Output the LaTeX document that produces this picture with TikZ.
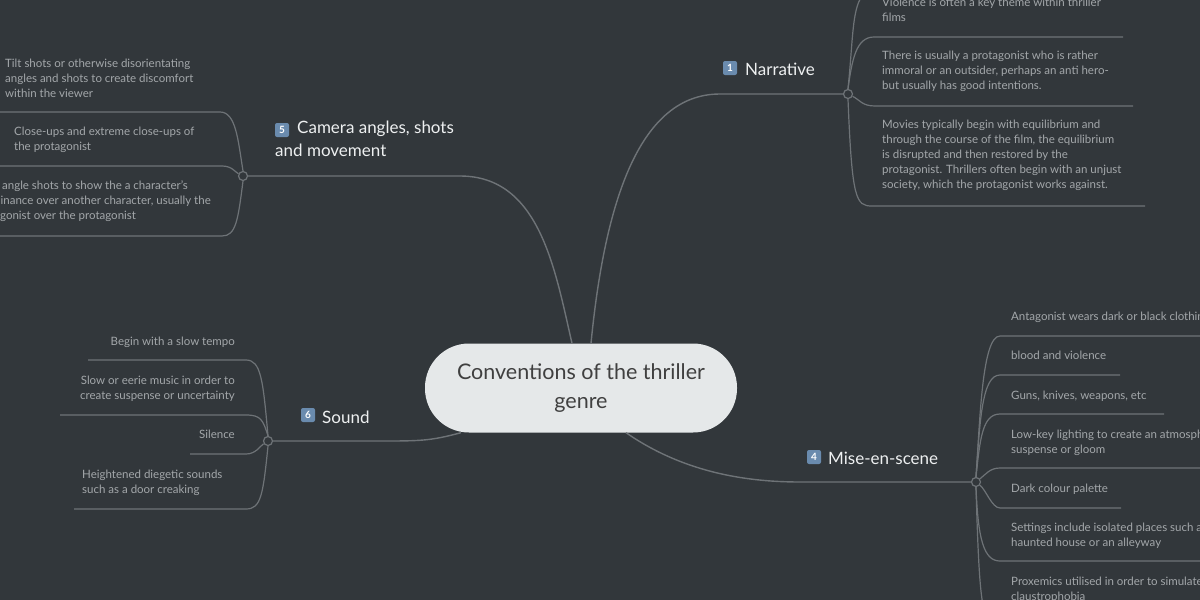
\documentclass[tikz,border=0pt]{standalone}
\usepackage{fontspec}
\setmainfont{Lato}
\definecolor{bg}{HTML}{32373B}
\definecolor{ln}{HTML}{6E7377}
\definecolor{lf}{HTML}{A3A7AA}
\definecolor{tp}{HTML}{EEF0F1}
\definecolor{cn}{HTML}{E5E8E9}
\definecolor{key}{HTML}{6A8BAE}
\begin{document}
\begin{tikzpicture}[x=1pt,y=-1pt,
  leaf/.style={inner sep=0pt,text=lf,font=\fontsize{11.5}{15}\selectfont},
  topic/.style={inner sep=0pt,text=tp,font=\fontsize{17}{23}\selectfont,align=left},
  conn/.style={draw=ln,line width=1.4pt},
  bl/.style={draw=ln,line width=1.2pt},
  junc/.style={circle,draw=ln,line width=1.2pt,fill=bg,minimum size=9pt,inner sep=0pt},
  badge/.style={fill=key,rounded corners=2pt,text=white,inner sep=0pt,minimum width=14pt,minimum height=14pt,font=\fontsize{10}{10}\selectfont\bfseries}]
\useasboundingbox (0,0) rectangle (1200,600);
\fill[bg] (0,0) rectangle (1200,600);

% centre
\node[fill=cn,rounded corners=44pt,minimum width=312pt,minimum height=89pt,align=center,text=black!75,font=\fontsize{21.5}{29}\selectfont] (c) at (581,388) {Conventions of the thriller\\genre};

% junctions
\node[junc] (jn) at (848,94) {};
\node[junc] (jm) at (976,482) {};
\node[junc] (jc) at (243,176) {};
\node[junc] (js) at (268,441) {};

% main branches
\draw[conn] (c.north)++(10,0) coordinate (c1) .. controls (605,200) and (640,94) .. (720,94) -- (jn);
\draw[conn] (c.south)++(45,0) coordinate (c2) .. controls (680,470) and (740,482) .. (800,482) -- (jm);
\draw[conn] (c.north)++(-9,0) coordinate (c3) .. controls (555,270) and (540,176) .. (460,176) -- (jc);
\draw[conn] (c.south)++(-120,0) coordinate (c4) .. controls (430,441) and (420,441) .. (380,441) -- (js);

% topics
\node[badge] (b1) at (730,68) {1};
\node[topic,anchor=west] (t1) at (745,69) {Narrative};
\node[badge] (b4) at (814,457) {4};
\node[topic,anchor=west] (t4) at (828,458) {Mise-en-scene};
\node[badge] (b5) at (282,130) {5};
\node[topic,anchor=north west] (t5) at (275,121) {\hspace{22pt}Camera angles, shots\\and movement};
\node[badge] (b6) at (308,415) {6};
\node[topic,anchor=west] (t6) at (322,417) {Sound};

% Narrative leaves
\node[leaf,anchor=north west,align=left] (n1) at (882,-2) {Violence is often a key theme within thriller\\films};
\node[leaf,anchor=north west,align=left] (n2) at (882,51) {There is usually a protagonist who is rather\\immoral or an outsider, perhaps an anti hero-\\but usually has good intentions.};
\node[leaf,anchor=north west,align=left] (n3) at (882,120) {Movies typically begin with equilibrium and\\through the course of the film, the equilibrium\\is disrupted and then restored by the\\protagonist. Thrillers often begin with an unjust\\society, which the protagonist works against.};
\draw[bl] (jn.north) .. controls (853,40) and (852,10) .. (862,-4);
\draw[bl] (jn.north) .. controls (852,60) and (856,37) .. (874,37) -- (1123,37);
\draw[bl] (jn) .. controls (860,100) and (862,106) .. (875,106) -- (1133,106);
\draw[bl] (jn.south) .. controls (852,200) and (856,206) .. (872,206) -- (1145,206);

% Mise-en-scene leaves
\node[leaf,anchor=north west] (m1) at (1011,312) {Antagonist wears dark or black clothing};
\node[leaf,anchor=north west] (m2) at (1011,351) {blood and violence};
\node[leaf,anchor=north west] (m3) at (1011,391) {Guns, knives, weapons, etc};
\node[leaf,anchor=north west,align=left] (m4) at (1011,430) {Low-key lighting to create an atmosphere of\\suspense or gloom};
\node[leaf,anchor=north west] (m5) at (1011,484) {Dark colour palette};
\node[leaf,anchor=north west,align=left] (m6) at (1011,523) {Settings include isolated places such as a\\haunted house or an alleyway};
\node[leaf,anchor=north west,align=left] (m7) at (1011,577) {Proxemics utilised in order to simulate\\claustrophobia};
\draw[bl] (jm.north) .. controls (980,420) and (982,336) .. (1000,336) -- (1205,336);
\draw[bl] (jm.north) .. controls (980,420) and (982,375) .. (1000,375) -- (1120,375);
\draw[bl] (jm.north) .. controls (980,440) and (982,414) .. (1000,414) -- (1164,414);
\draw[bl] (jm) .. controls (986,474) and (990,468) .. (1000,468) -- (1205,468);
\draw[bl] (jm) .. controls (986,490) and (992,508) .. (1000,508) -- (1121,508);
\draw[bl] (jm.south) .. controls (978,540) and (984,561) .. (1000,561) -- (1205,561);
\draw[bl] (jm.south) .. controls (978,560) and (980,590) .. (983,605);

% Camera leaves
\node[leaf,anchor=north west,align=left] (k1) at (5,59) {Tilt shots or otherwise disorientating\\angles and shots to create discomfort\\within the viewer};
\node[leaf,anchor=north west,align=left] (k2) at (14,127) {Close-ups and extreme close-ups of\\the protagonist};
\node[leaf,anchor=north east,align=left] (k3) at (211,181) {Low angle shots to show the a character's\\dominance over another character, usually the\\antagonist over the protagonist};
\draw[bl] (jc.north) .. controls (238,140) and (236,112) .. (220,112) -- (-5,112);
\draw[bl] (jc) .. controls (235,172) and (232,166) .. (222,166) -- (-5,166);
\draw[bl] (jc.south) .. controls (238,220) and (236,236) .. (222,236) -- (-5,236);

% Sound leaves
\node[leaf,anchor=north east] (s1) at (235,337) {Begin with a slow tempo};
\node[leaf,anchor=north east,align=right] (s2) at (235,376) {Slow or eerie music in order to\\create suspense or uncertainty};
\node[leaf,anchor=north east] (s3) at (235,430) {Silence};
\node[leaf,anchor=north west,align=left] (s4) at (82,470) {Heightened diegetic sounds\\such as a door creaking};
\draw[bl] (js.north) .. controls (263,380) and (261,360) .. (246,360) -- (88,360);
\draw[bl] (js.north) .. controls (263,420) and (261,415) .. (246,415) -- (60,415);
\draw[bl] (js) .. controls (260,446) and (256,454) .. (246,454) -- (190,454);
\draw[bl] (js.south) .. controls (263,495) and (261,509) .. (246,509) -- (74,509);
\end{tikzpicture}
\end{document}
